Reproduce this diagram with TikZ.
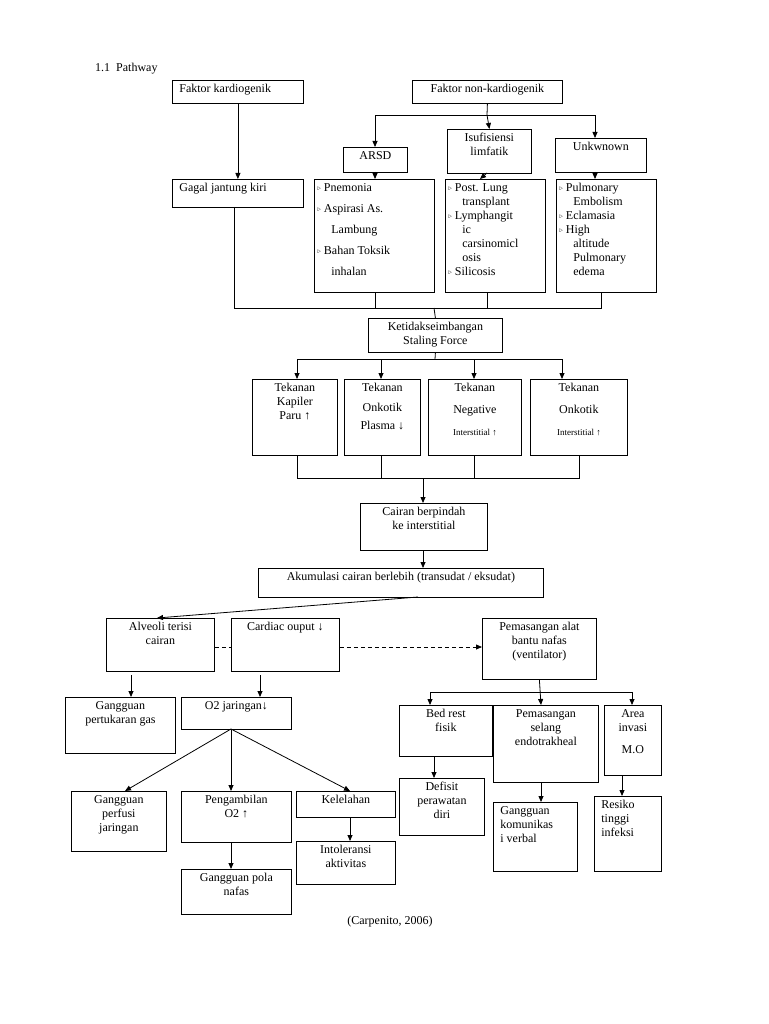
\documentclass[tikz,border=0pt]{standalone}
\usepackage{fontspec}
\setmainfont{Liberation Serif}
\usetikzlibrary{arrows.meta}
\tikzset{box/.style={draw,line width=0.8pt,inner sep=0pt,anchor=north west},
 arr/.style={line width=0.8pt,-{Triangle[length=6pt,width=5pt]}},
 ln/.style={line width=0.8pt},
 dsh/.style={line width=0.8pt,dashed,dash pattern=on 4pt off 3pt}}
\newcommand\bx[6]{\node[box,minimum width=\dimexpr #4pt-#2pt\relax,minimum height=\dimexpr #5pt-#3pt\relax] (#1) at (#2pt,-#3pt)
 {\parbox[c][\dimexpr #5pt-#3pt-4pt\relax][t]{\dimexpr #4pt-#2pt-6pt\relax}{\vspace{2pt}#6}};}
\newcommand\tri{\raisebox{1pt}{\scalebox{0.6}{$\triangleright$}}\ }
\begin{document}
\fontsize{12pt}{14pt}\selectfont
\begin{tikzpicture}[x=1pt,y=1pt]
\useasboundingbox (0,0) rectangle (768,-1024);
\node[anchor=west] (title) at (91,-69) {1.1\ \ Pathway};
\bx{fk}{172}{80}{303}{103}{\hspace{4pt}Faktor kardiogenik}
\bx{fnk}{412}{80}{562}{103}{\centering Faktor non-kardiogenik}
\bx{arsd}{343}{147}{407}{172}{\centering ARSD}
\bx{isu}{447}{129}{531}{173}{\centering Isufisiensi\\limfatik}
\bx{unk}{555}{138}{646}{172}{\centering Unkwnown}
\bx{gjk}{172}{179}{303}{207}{\hspace{4pt}Gagal jantung kiri}
\bx{b1}{314}{179}{434}{292}{\setlength{\baselineskip}{21pt}\tri Pnemonia\\\tri Aspirasi As.\\\hspace*{14pt}Lambung\\\tri Bahan Toksik\\\hspace*{14pt}inhalan}
\bx{b2}{445}{179}{545}{292}{\setlength{\baselineskip}{14pt}\tri Post. Lung\\\hspace*{14pt}transplant\\\tri Lymphangit\\\hspace*{14pt}ic\\\hspace*{14pt}carsinomicl\\\hspace*{14pt}osis\\\tri Silicosis}
\bx{b3}{556}{179}{656}{292}{\setlength{\baselineskip}{14pt}\tri Pulmonary\\\hspace*{14pt}Embolism\\\tri Eclamasia\\\tri High\\\hspace*{14pt}altitude\\\hspace*{14pt}Pulmonary\\\hspace*{14pt}edema}
\bx{kst}{368}{318}{502}{352}{\centering Ketidakseimbangan\\Staling Force}
\bx{t1}{252}{379}{337}{455}{\centering Tekanan\\Kapiler\\Paru ↑}
\bx{t2}{344}{379}{420}{455}{\centering Tekanan\\[6pt]Onkotik\\[4pt]Plasma ↓}
\bx{t3}{428}{379}{521}{455}{\centering Tekanan\\[8pt]Negative\\[8pt]{\small Interstitial ↑}}
\bx{t4}{530}{379}{627}{455}{\centering Tekanan\\[8pt]Onkotik\\[8pt]{\small Interstitial ↑}}
\bx{cbi}{360}{503}{487}{550}{\centering Cairan berpindah\\ke interstitial}
\bx{akm}{258}{568}{543}{597}{\centering Akumulasi cairan berlebih (transudat / eksudat)}
\bx{alv}{106}{618}{214}{671}{\centering Alveoli terisi\\cairan}
\bx{cdo}{231}{618}{339}{671}{\centering Cardiac ouput ↓}
\bx{pab}{482}{618}{596}{679}{\centering Pemasangan alat\\bantu nafas\\(ventilator)}
\bx{gpg}{65}{697}{175}{753}{\centering Gangguan\\pertukaran gas}
\bx{o2j}{181}{697}{291}{729}{\centering O2 jaringan↓}
\bx{gpj}{71}{791}{166}{851}{\centering Gangguan\\perfusi\\jaringan}
\bx{po2}{181}{791}{291}{842}{\centering Pengambilan\\O2 ↑}
\bx{kel}{296}{791}{395}{817}{\centering Kelelahan}
\bx{gpn}{181}{869}{291}{914}{\centering Gangguan pola\\nafas}
\bx{ina}{296}{841}{395}{884}{\centering Intoleransi\\aktivitas}
\bx{brf}{399}{705}{492}{756}{\centering Bed rest\\fisik}
\bx{pse}{493}{705}{598}{782}{\centering Pemasangan\\selang\\endotrakheal}
\bx{aim}{604}{705}{661}{775}{\centering Area\\invasi\\[8pt]M.O}
\bx{dpd}{399}{778}{484}{835}{\centering Defisit\\perawatan\\diri}
\bx{gkv}{493}{802}{577}{871}{\hspace*{4pt}Gangguan\\\hspace*{4pt}komunikas\\\hspace*{4pt}i verbal}
\bx{rti}{594}{796}{661}{871}{\hspace*{4pt}Resiko\\\hspace*{4pt}tinggi\\\hspace*{4pt}infeksi}
\node (cite) at (390,-922) {(Carpenito, 2006)};
% top
\draw[arr] (fk.south) -- (gjk.north);
\coordinate (j1) at (487,-115);
\draw[ln] (fnk.south) -- (j1);
\draw[arr] (j1) -- (375,-115) -- (375,-147);
\draw[arr] (j1) -- (isu.north);
\draw[arr] (j1) -- (595,-115) -- (595,-138);
\draw[arr] (375,-172) -- (375,-179);
\draw[arr] (487,-173) -- (480,-179);
\draw[arr] (595,-172) -- (595,-179);
\coordinate (j2) at (434,-308);
\draw[ln] (234,-207) -- (234,-308) -- (601,-308) -- (601,-292);
\draw[ln] (375,-292) -- (375,-308);
\draw[ln] (487,-292) -- (487,-308);
\draw[ln] (j2) -- (kst.north);
\draw[ln] (kst.south) -- (435,-359);
\draw[ln] (297,-359) -- (562,-359);
\draw[arr] (297,-359) -- (297,-379);
\draw[arr] (381,-359) -- (381,-379);
\draw[arr] (474,-359) -- (474,-379);
\draw[arr] (562,-359) -- (562,-379);
\draw[ln] (297,-455) -- (297,-478) -- (579,-478) -- (579,-455);
\draw[ln] (381,-455) -- (381,-478);
\draw[ln] (474,-455) -- (474,-478);
\draw[arr] (423,-478) -- (cbi.north -| 423,0);
\draw[arr] (423,-550) -- (423,-568);
\draw[arr] (418,-597) -- (157,-618);
\draw[dsh] (alv.east |- 0,-647) -- (cdo.west |- 0,-647);
\draw[dsh,arr] (cdo.east |- 0,-647) -- (pab.west |- 0,-647);
\draw[arr] (131,-675) -- (131,-697);
\draw[arr] (260,-675) -- (260,-697);
\draw[arr] (231,-729) -- (125,-791);
\draw[arr] (231,-729) -- (231,-791);
\draw[arr] (231,-729) -- (350,-791);
\draw[arr] (231,-842) -- (231,-869);
\draw[arr] (350,-817) -- (350,-841);
\draw[arr] (pab.south) -- (541,-705);
\draw[arr] (541,-692) -- (430,-692) -- (430,-705);
\draw[arr] (541,-692) -- (632,-692) -- (632,-705);
\draw[arr] (434,-756) -- (434,-778);
\draw[arr] (541,-782) -- (541,-802);
\draw[arr] (622,-775) -- (622,-796);
\end{tikzpicture}
\end{document}
